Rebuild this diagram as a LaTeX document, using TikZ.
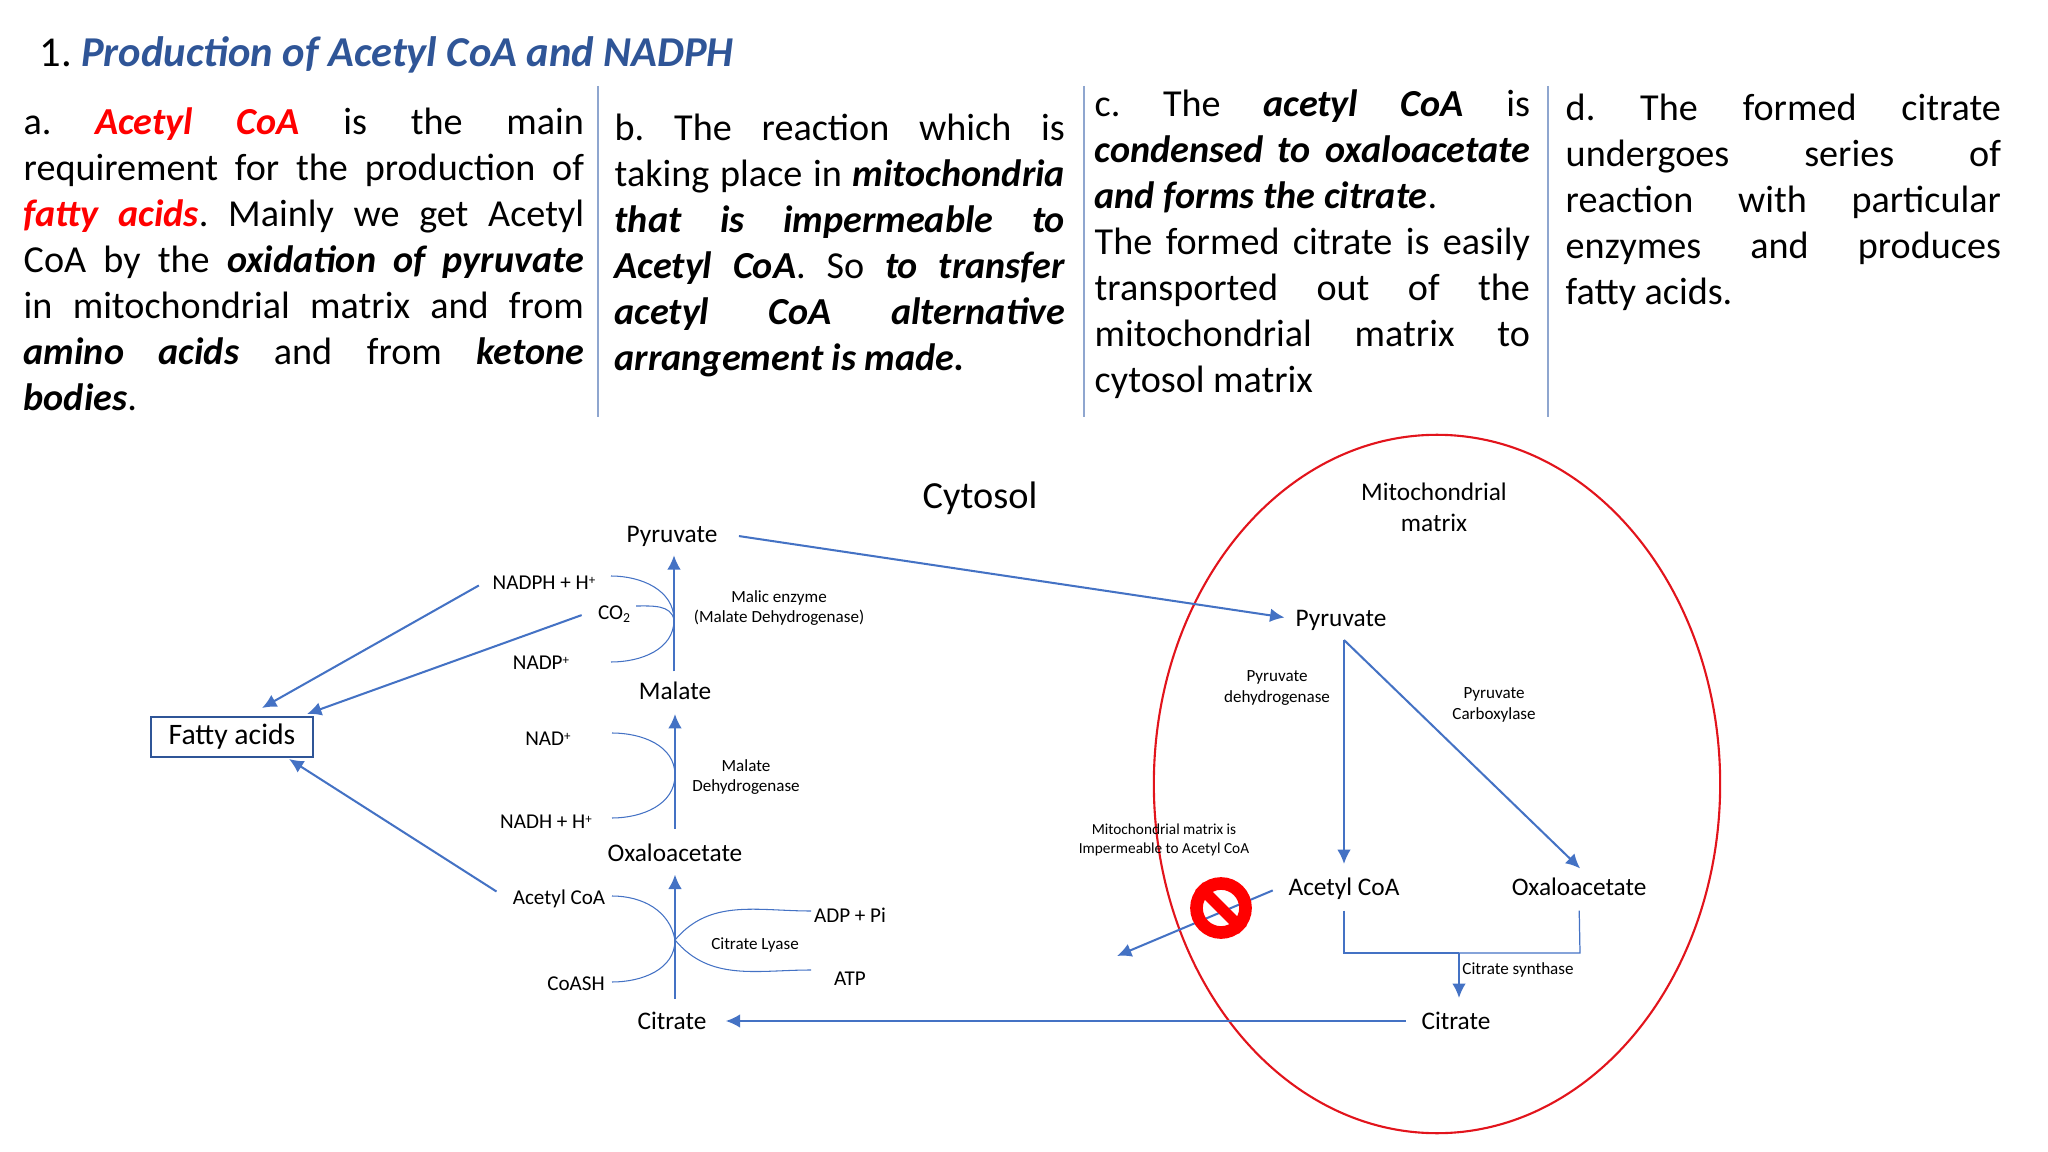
\documentclass[tikz,border=0pt]{standalone}
\usepackage{fontspec}
\setmainfont{Carlito}
\usepackage{tikz}
\usetikzlibrary{arrows.meta,shapes.geometric}
\definecolor{flowblue}{HTML}{4472C4}
\definecolor{titleblue}{HTML}{2F5597}
\definecolor{ruleblue}{HTML}{8FA6CF}
\definecolor{matrixred}{HTML}{E2141C}
\def\sups#1{\raisebox{0.55ex}{\fontsize{3.7pt}{4pt}\selectfont #1}}
\def\subs#1{\raisebox{-0.3ex}{\fontsize{3.9pt}{4pt}\selectfont #1}}
\def\Hplus{H\sups{+}}
\def\red#1{\textcolor{red}{\textbf{\textit{#1}}}}
\def\key#1{\textbf{\textit{#1}}}
\tikzset{
    para/.style={anchor=north west,inner sep=0pt,align=justify,font=\fontsize{10.85pt}{13.09pt}\selectfont\frenchspacing},
    divider/.style={ruleblue,line width=0.4pt},
    compound/.style={font=\fontsize{7.2pt}{8.6pt}\selectfont,inner sep=2pt,text height=5.9pt,text depth=0.8pt},
    cofactor/.style={font=\fontsize{6pt}{7.2pt}\selectfont,inner sep=2pt,text height=5pt,text depth=0.6pt},
    enzyme/.style={font=\fontsize{4.85pt}{5.9pt}\selectfont,inner sep=0pt,align=center},
    flow/.style={->,flowblue,line width=0.58pt},
    plainflow/.style={flowblue,line width=0.58pt},
    thinflow/.style={flowblue,line width=0.3pt}
}
\begin{document}
\begin{tikzpicture}[x=0.01cm,y=-0.01cm,>={Latex[length=4.1pt,width=3.9pt]}]
    \useasboundingbox (0,0) rectangle (2048,1152);

    \node[anchor=west,inner sep=0pt,font=\fontsize{12.1pt}{14pt}\selectfont] (title) at (39,55)
        {1.\kern2.6pt\textcolor{titleblue}{\key{Production of Acetyl CoA and NADPH}}};

    \node[para,text width=5.6cm] (parta) at (23,107) {a. \red{Acetyl CoA} is the main\linebreak
        requirement for the production of\linebreak
        \red{fatty acids}. Mainly we get Acetyl\linebreak
        CoA by the \key{oxidation of pyruvate}\linebreak
        in mitochondrial matrix and from\linebreak
        \key{amino acids} and from \key{ketone}\linebreak
        \key{bodies}.};
    \node[para,text width=4.5cm] (partb) at (614,113) {b. The reaction which is\linebreak
        taking place in \key{mitochondria}\linebreak
        \key{that is impermeable to}\linebreak
        \key{Acetyl CoA}. So \key{to transfer}\linebreak
        \key{acetyl CoA alternative}\linebreak
        \key{arrangement is made.}};
    \node[para,text width=4.35cm] (partc) at (1094,89) {c. The \key{acetyl CoA} is\linebreak
        \key{condensed to oxaloacetate}\linebreak
        \key{and forms the citrate}.\\
        The formed citrate is easily\linebreak
        transported out of the\linebreak
        mitochondrial matrix to\linebreak
        cytosol matrix};
    \node[para,text width=4.35cm] (partd) at (1565,93) {d. The formed citrate\linebreak
        undergoes series of\linebreak
        reaction with particular\linebreak
        enzymes and produces\linebreak
        fatty acids.};

    \coordinate (ruleAtop) at (598,86);
    \coordinate (ruleAbot) at (598,417);
    \coordinate (ruleBtop) at (1084,86);
    \coordinate (ruleBbot) at (1084,417);
    \coordinate (ruleCtop) at (1548,86);
    \coordinate (ruleCbot) at (1548,417);
    \draw[divider] (ruleAtop) -- (ruleAbot);
    \draw[divider] (ruleBtop) -- (ruleBbot);
    \draw[divider] (ruleCtop) -- (ruleCbot);

    \node[font=\fontsize{10.9pt}{13pt}\selectfont] (cytosol) at (980,498) {Cytosol};
    \node[draw=matrixred,ellipse,line width=0.6pt,minimum width=5.66cm,minimum height=6.98cm,inner sep=0pt] (matrix) at (1437,784) {};
    \node[align=center,inner sep=2pt,font=\fontsize{7.2pt}{8.8pt}\selectfont] (matrixlabel) at (1434,507) {Mitochondrial\\matrix};

    \node[compound] (PyrC) at (672,534) {Pyruvate};
    \node[compound] (MalC) at (675,691) {Malate};
    \node[compound] (OxaC) at (675,853) {Oxaloacetate};
    \node[compound] (CitC) at (672,1021) {Citrate};
    \node[draw=titleblue,line width=0.6pt,minimum width=1.62cm,minimum height=0.4cm,inner sep=0pt,font=\fontsize{8.45pt}{10pt}\selectfont] (FA) at (232,737) {Fatty acids};

    \node[cofactor] (NADPH) at (544,582) {NADPH + \Hplus};
    \node[cofactor] (COtwo) at (614,612) {CO\subs{2}};
    \node[cofactor] (NADP) at (541,662) {NADP\sups{+}};
    \node[cofactor] (NAD) at (548,738) {NAD\sups{+}};
    \node[cofactor] (NADH) at (546,821) {NADH + \Hplus};
    \node[cofactor] (AcC) at (559,897) {Acetyl CoA};
    \node[cofactor] (CoASH) at (576,983) {CoASH};
    \node[cofactor] (ADP) at (850,915) {ADP + Pi};
    \node[cofactor] (ATP) at (850,978) {ATP};

    \node[enzyme] (malic) at (779,608) {Malic enzyme\\(Malate Dehydrogenase)};
    \node[enzyme] (mdh) at (746,777) {Malate\\Dehydrogenase};
    \node[enzyme] (lyase) at (755,945) {Citrate Lyase};

    \coordinate (malicjoin) at (674,620);
    \coordinate (mdhjoin) at (675,775);
    \coordinate (lyasejoin) at (675,940);
    \coordinate (NADPHend) at (611,576);
    \coordinate (COtwoend) at (636,606);
    \coordinate (NADPend) at (611,662);
    \coordinate (NADend) at (612,733);
    \coordinate (NADHend) at (612,818);
    \coordinate (AcCend) at (612,896);
    \coordinate (CoASHend) at (612,982);
    \coordinate (ADPend) at (811,911);
    \coordinate (ATPend) at (811,970);

    \draw[flow,shorten >=0.5pt] (MalC.north -| malicjoin) -- (PyrC.south -| malicjoin);
    \draw[flow,shorten <=1.4pt,shorten >=1pt] (OxaC.north) -- (MalC.south -| OxaC.north);
    \draw[flow,shorten <=0.8pt,shorten >=0.6pt] (CitC.north -| OxaC.north) -- (OxaC.south);
    \draw[thinflow] (NADPHend) to [out=0,in=90] (malicjoin);
    \draw[thinflow] (COtwoend) to [out=0,in=100] (malicjoin);
    \draw[thinflow] (NADPend) to [out=0,in=-90] (malicjoin);
    \draw[thinflow] (NADend) to [out=0,in=90] (mdhjoin);
    \draw[thinflow] (NADHend) to [out=0,in=-90] (mdhjoin);
    \draw[thinflow] (AcCend) to [out=0,in=100] (lyasejoin);
    \draw[thinflow] (CoASHend) to [out=0,in=-90] (lyasejoin);
    \draw[thinflow] (ADPend) to [out=180,in=50] (lyasejoin);
    \draw[thinflow] (ATPend) to [out=180,in=-50] (lyasejoin);

    \coordinate (FAtopA) at (262,708);
    \coordinate (FAtopB) at (307,714);
    \coordinate (FAbot) at (289,759);
    \draw[flow,shorten <=2pt] (NADPH.west) -- (FAtopA);
    \draw[flow,shorten <=2.6pt] (COtwo.west) -- (FAtopB);
    \draw[flow,shorten <=2.9pt] (AcC.west) -- (FAbot);

    \node[compound] (PyrM) at (1341,618) {Pyruvate};
    \node[compound] (AcM) at (1344,887) {Acetyl CoA};
    \node[compound,right of=AcM,node distance=2.35cm] (OxaM) {Oxaloacetate};
    \node[compound] (CitM) at (1456,1021) {Citrate};
    \node[enzyme] (pdh) at (1277,688) {Pyruvate\\dehydrogenase};
    \node[enzyme] (pc) at (1494,705) {Pyruvate\\Carboxylase};
    \node[enzyme] (synthase) at (1518,970) {Citrate synthase};
    \node[enzyme,font=\fontsize{4.35pt}{5.2pt}\selectfont] (impermeable) at (1164,840) {Mitochondrial matrix is\\Impermeable to Acetyl CoA};

    \coordinate (split) at (1344,640);
    \coordinate (bracketL) at (1344,953);
    \coordinate (bracketM) at (1459,953);
    \coordinate (bracketR) at (1580,953);
    \coordinate (blockend) at (1117,956);

    \draw[flow,shorten <=4pt,shorten >=1pt] (PyrC.east) -- (PyrM.west);
    \draw[flow,shorten >=1pt] (split) -- (AcM.north);
    \draw[flow,shorten >=-0.4pt] (split) -- (OxaM.north);
    \draw[plainflow,shorten <=1.2pt] (AcM.south) -- (bracketL) -- (bracketM);
    \draw[plainflow,line width=0.35pt,shorten <=1.2pt] (OxaM.south) -- (bracketR) -- (bracketM);
    \draw[flow,shorten >=1pt] (bracketM) -- (CitM.north -| bracketM);
    \draw[flow,shorten <=2.3pt,shorten >=3.3pt] (CitM.west) -- (CitC.east);
    \draw[flow,shorten <=2.5pt] (AcM.west) -- (blockend);

    \node[circle,draw=red,line width=3.6pt,minimum size=0.49cm,inner sep=0pt] (stopsign) at (1221,908) {};
    \draw[red,line width=3.2pt] (stopsign.135) -- (stopsign.-45);
\end{tikzpicture}
\end{document}
